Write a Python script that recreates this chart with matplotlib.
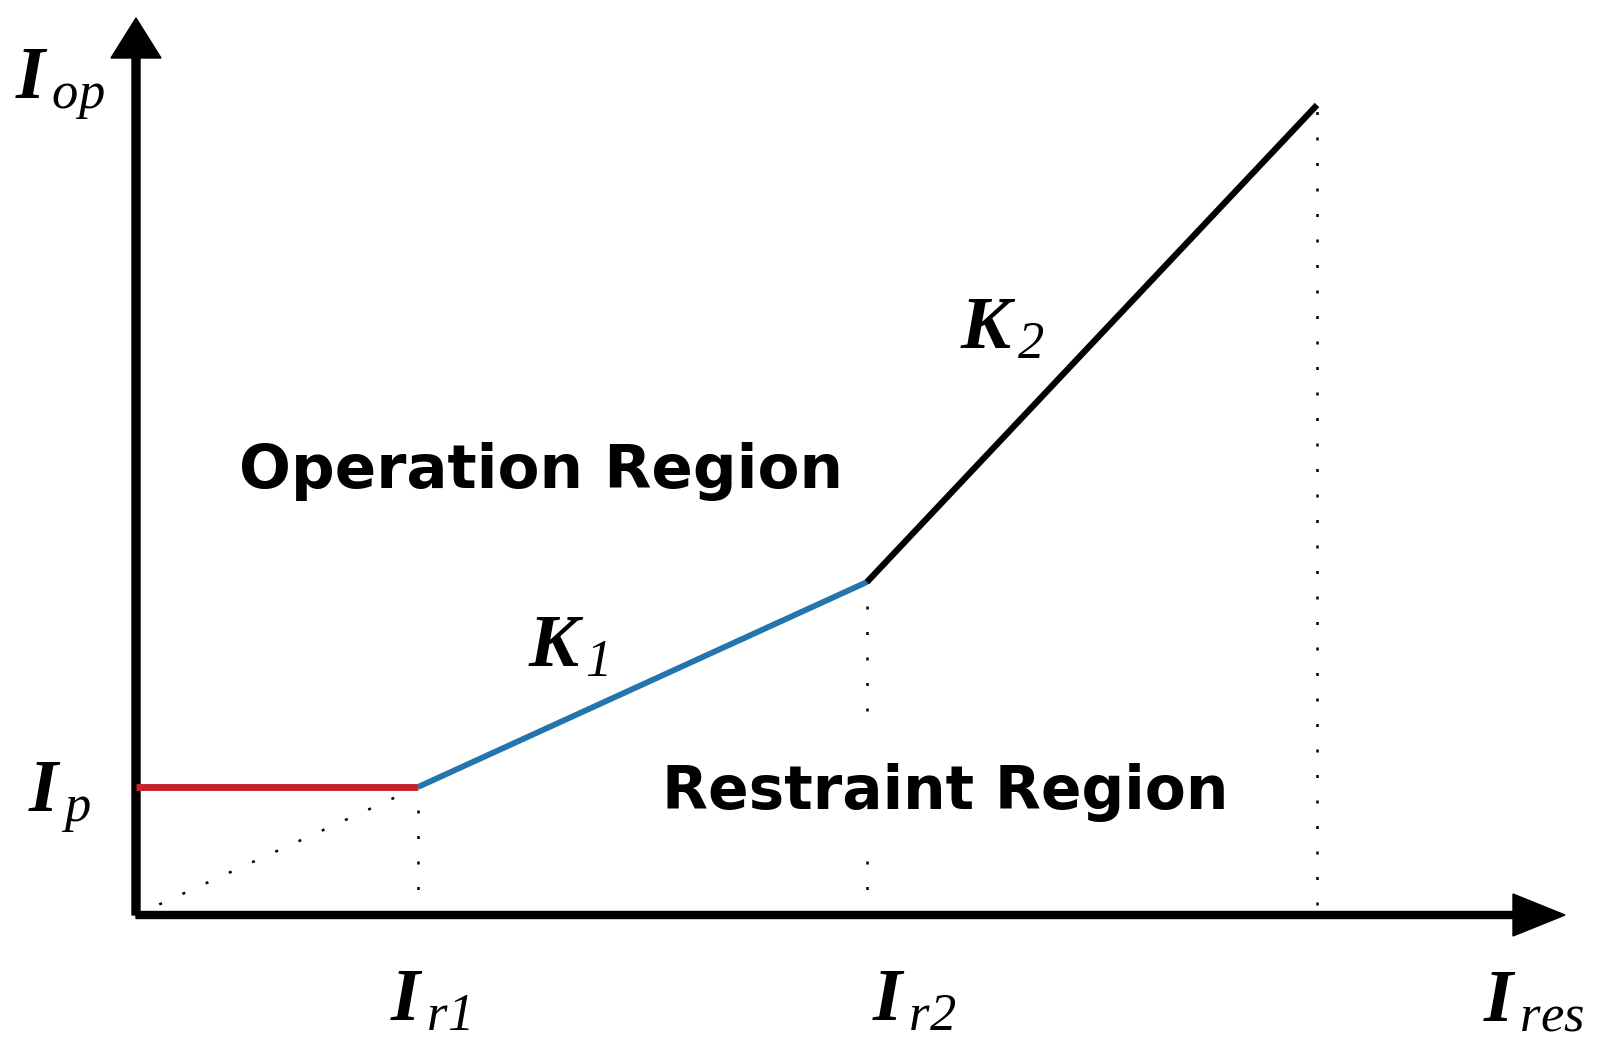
import matplotlib
matplotlib.use("Agg")
import matplotlib.pyplot as plt

# characteristic break points (restraint current / operating current)
ir_points = [0.0, 2.82, 7.31, 11.81]      # origin, Ir1, Ir2, end of K2 slope
iop_points = [0.0, 1.28, 3.33, 8.10]      # origin, Ip, value at Ir2, end value
axis_max = [14.29, 8.97]                  # arrow tips (x, y)

plt.rcParams['mathtext.fontset'] = 'custom'
plt.rcParams['mathtext.it'] = 'Liberation Serif:italic'
plt.rcParams['mathtext.rm'] = 'Liberation Serif:italic'
plt.rcParams['mathtext.bf'] = 'Liberation Serif:bold:italic'

fig = plt.figure(figsize=(16.09, 10.52), dpi=100)
ax = fig.add_axes([0, 0, 1, 1])
ax.set_xlim(-1.36, 14.73)
ax.set_ylim(-1.37, 9.15)
ax.axis('off')

ir1, ir2, ir_end = ir_points[1], ir_points[2], ir_points[3]
ip, i2, i_end = iop_points[1], iop_points[2], iop_points[3]

# axes with arrows
ax.arrow(0, 0, 0, axis_max[1] - 0.40, width=0.08, head_width=0.50,
         head_length=0.40, fc='black', ec='black', length_includes_head=False)
ax.arrow(0, 0, axis_max[0] - 0.52, 0, width=0.07, head_width=0.42,
         head_length=0.52, fc='black', ec='black', length_includes_head=False)

# characteristic
dot = (0, (1.2, 9))
ax.plot([0, ir1], [ip, ip], color='#c8232b', lw=5, solid_capstyle='butt', zorder=3)
ax.plot([ir1, ir2], [ip, i2], color='#2474ad', lw=4.2, solid_capstyle='butt', zorder=3)
ax.plot([ir2, ir_end], [i2, i_end], color='black', lw=4.5, solid_capstyle='butt', zorder=3)

# dotted guides
ax.plot([0, ir1], [0, ip], color='black', lw=1.8, ls=dot)
ax.plot([ir1, ir1], [0, ip], color='black', lw=1.8, ls=dot)
ax.plot([ir2, ir2], [0, i2], color='black', lw=1.8, ls=dot, zorder=1)
ax.plot([ir_end, ir_end], [0.1, i_end], color='black', lw=1.8, ls=dot)

# region texts
ax.text(1.03, 4.27, 'Operation Region', fontsize=44, fontweight='bold',
        family='DejaVu Sans', ha='left', va='baseline')
ax.text(5.26, 1.06, 'Restraint Region', fontsize=43, fontweight='bold',
        family='DejaVu Sans', ha='left', va='baseline', zorder=2,
        bbox=dict(facecolor='white', edgecolor='none', boxstyle='square,pad=0.55'))

# symbol labels
lab = dict(fontsize=54, ha='left', va='baseline')
ax.text(-1.21, 8.17, r'$\mathbf{I}_{\,\mathit{op}}$', **lab)
ax.text(-1.08, 1.04, r'$\mathbf{I}_{\,\mathit{p}}$', **lab)
ax.text(2.54, -1.06, r'$\mathbf{I}_{\,\mathit{r1}}$', **lab)
ax.text(7.36, -1.06, r'$\mathbf{I}_{\,\mathit{r2}}$', **lab)
ax.text(13.47, -1.06, r'$\mathbf{I}_{\,\mathit{res}}$', **lab)
ax.text(3.92, 2.48, r'$\mathbf{K}_{\,\mathit{1}}$', **lab)
ax.text(8.24, 5.66, r'$\mathbf{K}_{\,\mathit{2}}$', **lab)

fig.savefig('out.png', dpi=100, facecolor='white')
